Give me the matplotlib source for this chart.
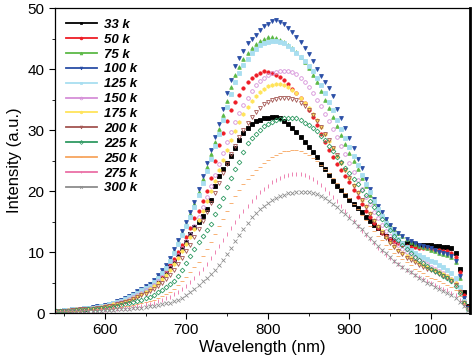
import matplotlib
matplotlib.use("Agg")
import matplotlib.pyplot as plt
from matplotlib.lines import Line2D
from matplotlib.ticker import MultipleLocator

plt.rcParams['font.family'] = ['Liberation Sans', 'DejaVu Sans']

# wavelength grid of the spectra (nm)
wavelength = list(range(540, 1050, 5))

labels = ["33 k", "50 k", "75 k", "100 k", "125 k", "150 k",
          "175 k", "200 k", "225 k", "250 k", "275 k", "300 k"]

i_33k = [0.4, 0.4, 0.5, 0.5, 0.6, 0.6, 0.7, 0.7, 0.8, 0.9, 1.0, 1.1, 1.2, 1.3, 1.5, 1.7, 1.9, 2.1, 2.4, 2.7,
         3.0, 3.4, 3.8, 4.2, 4.7, 5.3, 6.0, 6.8, 7.6, 8.6, 9.6, 10.7, 11.7, 13.0, 14.1, 15.0, 15.9, 17.0, 18.5, 20.8,
         22.4, 23.6, 24.6, 25.8, 27.0, 28.3, 29.5, 30.4, 31.0, 31.4, 31.7, 31.9, 32.0, 32.1, 32.1, 31.9, 31.5, 31.0, 30.4, 29.7,
         28.9, 28.1, 27.2, 26.4, 25.5, 24.5, 23.6, 22.6, 21.7, 20.9, 20.1, 19.3, 18.6, 17.9, 17.2, 16.5, 15.8, 15.1, 14.5, 13.9,
         13.3, 12.7, 12.2, 11.8, 11.6, 11.5, 11.4, 11.4, 11.3, 11.2, 11.2, 11.1, 11.1, 11.0, 11.0, 10.9, 10.8, 10.6, 9.8, 7.2,
         3.5, 1.2]
i_50k = [0.4, 0.4, 0.5, 0.5, 0.6, 0.6, 0.7, 0.8, 0.8, 0.9, 1.0, 1.1, 1.2, 1.4, 1.5, 1.7, 2.0, 2.2, 2.5, 2.8,
         3.2, 3.6, 4.0, 4.4, 4.9, 5.6, 6.3, 7.1, 8.0, 8.9, 10.0, 11.2, 12.5, 14.0, 15.5, 16.8, 18.3, 20.0, 22.2, 25.0,
         27.5, 29.5, 31.5, 33.2, 34.6, 35.7, 36.9, 37.9, 38.6, 39.1, 39.4, 39.6, 39.5, 39.3, 39.0, 38.7, 38.2, 37.6, 36.8, 36.0,
         35.2, 34.4, 33.3, 32.1, 30.8, 29.4, 28.1, 26.8, 25.5, 24.4, 23.4, 22.4, 21.4, 20.2, 19.0, 17.8, 16.7, 15.7, 14.7, 13.9,
         13.2, 12.6, 12.1, 11.7, 11.4, 11.2, 11.0, 10.9, 10.8, 10.7, 10.6, 10.6, 10.5, 10.4, 10.3, 10.2, 10.1, 9.9, 9.2, 6.8,
         3.0, 1.0]
i_75k = [0.4, 0.4, 0.5, 0.5, 0.6, 0.7, 0.7, 0.8, 0.9, 1.0, 1.1, 1.2, 1.3, 1.5, 1.7, 1.9, 2.1, 2.4, 2.7, 3.1,
         3.5, 3.9, 4.3, 4.7, 5.3, 6.0, 6.8, 7.6, 8.8, 10.2, 11.7, 13.2, 14.6, 16.2, 17.8, 19.8, 22.0, 24.0, 26.0, 28.0,
         30.2, 32.5, 34.8, 37.0, 39.0, 40.4, 41.6, 42.6, 43.5, 44.1, 44.6, 45.0, 45.2, 45.2, 45.1, 44.8, 44.4, 43.9, 43.4, 42.8,
         42.0, 41.2, 40.2, 39.0, 37.8, 36.4, 35.0, 33.6, 32.2, 30.6, 29.2, 27.7, 26.3, 25.0, 23.6, 22.2, 20.8, 19.4, 18.2, 17.1,
         16.1, 15.2, 14.4, 13.7, 13.1, 12.6, 12.1, 11.7, 11.3, 11.0, 10.8, 10.6, 10.4, 10.2, 9.9, 9.7, 9.5, 9.2, 8.4, 5.8,
         2.4, 0.8]
i_100k = [0.4, 0.4, 0.5, 0.5, 0.6, 0.7, 0.7, 0.8, 0.9, 1.0, 1.1, 1.2, 1.3, 1.5, 1.7, 1.9, 2.2, 2.5, 2.8, 3.2,
          3.6, 4.0, 4.4, 4.8, 5.4, 6.2, 7.0, 7.8, 9.0, 10.5, 12.0, 13.5, 15.0, 16.6, 18.2, 20.3, 22.5, 24.6, 26.7, 28.8,
          31.0, 33.5, 36.0, 38.2, 40.5, 41.8, 43.0, 44.2, 45.0, 45.6, 46.4, 47.0, 47.4, 47.8, 48.0, 47.7, 47.4, 46.7, 46.0, 45.3,
          44.5, 43.4, 42.4, 41.3, 40.0, 38.9, 37.8, 36.9, 35.6, 33.5, 32.0, 30.3, 28.7, 27.0, 25.3, 23.8, 22.0, 20.3, 18.7, 17.6,
          16.5, 15.4, 14.5, 13.8, 13.2, 12.7, 12.2, 11.8, 11.5, 11.2, 11.0, 10.8, 10.6, 10.3, 10.0, 9.8, 9.6, 9.3, 8.5, 6.0,
          2.5, 0.8]
i_125k = [0.4, 0.4, 0.5, 0.5, 0.6, 0.6, 0.7, 0.8, 0.8, 0.9, 1.0, 1.1, 1.2, 1.4, 1.6, 1.8, 2.0, 2.3, 2.6, 2.9,
          3.3, 3.7, 4.1, 4.5, 5.1, 5.8, 6.6, 7.4, 8.5, 9.9, 11.3, 12.8, 14.2, 15.8, 17.4, 19.3, 21.3, 23.3, 25.3, 27.3,
          29.4, 31.6, 33.8, 35.9, 37.8, 39.3, 40.6, 41.7, 42.6, 43.3, 43.9, 44.3, 44.5, 44.6, 44.6, 44.5, 44.2, 43.8, 43.3, 42.7,
          42.0, 41.3, 40.5, 39.6, 38.5, 37.3, 36.0, 34.6, 33.2, 31.7, 30.2, 28.7, 27.2, 25.7, 24.2, 22.7, 21.2, 19.8, 18.4, 17.1,
          15.9, 14.8, 13.8, 12.9, 12.1, 11.4, 10.8, 10.3, 9.9, 9.5, 9.2, 8.9, 8.6, 8.3, 7.9, 7.5, 7.1, 6.6, 5.8, 4.2,
          2.0, 0.7]
i_150k = [0.4, 0.4, 0.4, 0.5, 0.5, 0.6, 0.6, 0.7, 0.7, 0.8, 0.9, 1.0, 1.1, 1.2, 1.4, 1.6, 1.8, 2.0, 2.3, 2.6,
          2.9, 3.3, 3.7, 4.1, 4.6, 5.2, 5.9, 6.6, 7.5, 8.4, 9.5, 10.6, 11.8, 13.0, 14.3, 15.8, 17.4, 19.1, 20.9, 22.7,
          24.5, 26.3, 28.0, 29.7, 31.3, 32.8, 34.1, 35.3, 36.4, 37.3, 38.0, 38.6, 39.0, 39.3, 39.5, 39.6, 39.7, 39.7, 39.5, 39.2,
          38.6, 37.9, 37.0, 36.1, 35.0, 33.9, 32.7, 31.4, 30.1, 28.8, 27.4, 26.0, 24.6, 23.2, 21.8, 20.4, 19.1, 17.8, 16.6, 15.5,
          14.5, 13.5, 12.6, 11.8, 11.1, 10.5, 10.0, 9.5, 9.1, 8.7, 8.3, 8.0, 7.6, 7.3, 6.9, 6.5, 6.1, 5.6, 4.9, 3.6,
          1.8, 0.7]
i_175k = [0.4, 0.4, 0.4, 0.5, 0.5, 0.6, 0.6, 0.7, 0.7, 0.8, 0.9, 1.0, 1.1, 1.2, 1.4, 1.5, 1.7, 1.9, 2.2, 2.5,
          2.8, 3.1, 3.5, 3.9, 4.4, 5.0, 5.6, 6.3, 7.1, 8.0, 9.0, 10.1, 11.3, 12.5, 13.8, 15.2, 16.7, 18.3, 20.0, 21.7,
          23.4, 25.1, 26.8, 28.4, 29.9, 31.3, 32.6, 33.8, 34.8, 35.6, 36.3, 36.8, 37.2, 37.4, 37.5, 37.5, 37.3, 37.0, 36.6, 36.0,
          35.3, 34.5, 33.6, 32.6, 31.6, 30.5, 29.4, 28.2, 27.0, 25.8, 24.6, 23.4, 22.2, 21.0, 19.8, 18.6, 17.5, 16.4, 15.3, 14.3,
          13.4, 12.5, 11.7, 11.0, 10.4, 9.9, 9.4, 9.0, 8.6, 8.2, 7.9, 7.6, 7.3, 7.0, 6.7, 6.4, 6.0, 5.6, 4.9, 3.6,
          1.8, 0.7]
i_200k = [0.4, 0.4, 0.4, 0.4, 0.5, 0.5, 0.6, 0.6, 0.7, 0.7, 0.8, 0.9, 1.0, 1.1, 1.2, 1.4, 1.6, 1.8, 2.0, 2.3,
          2.6, 2.9, 3.2, 3.6, 4.0, 4.5, 5.0, 5.6, 6.3, 7.1, 8.0, 9.0, 10.1, 11.2, 12.4, 13.7, 15.1, 16.6, 18.1, 19.7,
          21.3, 22.9, 24.5, 26.0, 27.4, 28.8, 30.0, 31.1, 32.1, 32.9, 33.6, 34.2, 34.6, 34.9, 35.1, 35.2, 35.2, 35.2, 35.1, 34.9,
          34.5, 33.9, 33.2, 32.4, 31.5, 30.5, 29.4, 28.3, 27.1, 25.9, 24.6, 23.4, 22.1, 20.9, 19.7, 18.5, 17.3, 16.2, 15.1, 14.1,
          13.2, 12.3, 11.5, 10.8, 10.2, 9.6, 9.1, 8.7, 8.3, 7.9, 7.6, 7.3, 7.0, 6.7, 6.4, 6.1, 5.7, 5.3, 4.6, 3.4,
          1.7, 0.7]
i_225k = [0.3, 0.3, 0.4, 0.4, 0.4, 0.5, 0.5, 0.5, 0.6, 0.6, 0.7, 0.8, 0.9, 0.9, 1.0, 1.1, 1.3, 1.4, 1.6, 1.8,
          2.0, 2.2, 2.4, 2.7, 3.0, 3.4, 3.8, 4.3, 4.8, 5.3, 6.1, 7.1, 8.2, 9.3, 10.5, 11.6, 12.7, 13.6, 14.6, 16.2,
          17.6, 18.9, 20.6, 22.2, 23.6, 24.8, 26.4, 27.8, 28.7, 29.4, 30.0, 30.6, 31.0, 31.3, 31.6, 31.8, 31.9, 31.9, 31.9, 31.9,
          31.6, 31.2, 30.8, 30.3, 29.8, 29.1, 28.3, 27.4, 26.5, 25.6, 24.8, 23.8, 22.9, 22.0, 21.2, 20.2, 19.3, 18.3, 17.4, 16.4,
          15.4, 14.5, 13.6, 12.7, 11.9, 11.2, 10.5, 9.8, 9.2, 8.7, 8.2, 7.7, 7.3, 6.9, 6.5, 6.1, 5.7, 5.2, 4.5, 3.3,
          1.7, 0.7]
i_250k = [0.3, 0.3, 0.3, 0.3, 0.4, 0.4, 0.4, 0.5, 0.5, 0.5, 0.6, 0.6, 0.7, 0.7, 0.8, 0.9, 1.0, 1.1, 1.2, 1.3,
          1.5, 1.6, 1.8, 2.0, 2.2, 2.5, 2.8, 3.1, 3.5, 4.0, 4.6, 5.2, 5.9, 6.7, 7.5, 8.4, 9.4, 10.5, 11.7, 13.0,
          14.2, 15.4, 16.7, 18.0, 19.2, 20.2, 21.1, 21.9, 22.7, 23.4, 24.0, 24.6, 25.1, 25.5, 25.9, 26.2, 26.5, 26.6, 26.7, 26.7,
          26.6, 26.3, 25.9, 25.4, 24.9, 24.3, 23.6, 22.9, 22.1, 21.3, 20.5, 19.6, 18.8, 17.9, 17.0, 16.1, 15.2, 14.3, 13.5, 12.7,
          11.9, 11.2, 10.5, 9.9, 9.3, 8.8, 8.3, 7.8, 7.3, 6.9, 6.5, 6.1, 5.8, 5.5, 5.2, 4.9, 4.6, 4.2, 3.7, 2.8,
          1.5, 0.6]
i_275k = [0.2, 0.2, 0.3, 0.3, 0.3, 0.3, 0.4, 0.4, 0.4, 0.4, 0.5, 0.5, 0.5, 0.6, 0.6, 0.7, 0.8, 0.8, 0.9, 1.0,
          1.1, 1.2, 1.4, 1.5, 1.7, 1.9, 2.1, 2.4, 2.7, 3.1, 3.5, 4.0, 4.5, 5.1, 5.8, 6.5, 7.3, 8.1, 9.0, 10.0,
          11.0, 12.0, 13.0, 14.0, 15.0, 15.9, 16.8, 17.6, 18.4, 19.1, 19.8, 20.4, 20.9, 21.4, 21.8, 22.1, 22.4, 22.6, 22.8, 22.8,
          22.8, 22.6, 22.3, 22.0, 21.5, 21.0, 20.4, 19.7, 19.0, 18.3, 17.5, 16.7, 15.9, 15.1, 14.3, 13.5, 12.8, 12.1, 11.4, 10.7,
          10.1, 9.5, 9.0, 8.5, 8.0, 7.5, 7.1, 6.7, 6.3, 5.9, 5.6, 5.2, 4.9, 4.6, 4.3, 4.0, 3.7, 3.3, 2.9, 2.2,
          1.3, 0.6]
i_300k = [0.2, 0.2, 0.2, 0.3, 0.3, 0.3, 0.3, 0.3, 0.4, 0.4, 0.4, 0.4, 0.5, 0.5, 0.5, 0.6, 0.6, 0.7, 0.7, 0.8,
          0.8, 0.9, 1.0, 1.1, 1.2, 1.3, 1.4, 1.6, 1.7, 1.9, 2.2, 2.5, 2.9, 3.4, 4.0, 4.6, 5.2, 5.8, 6.4, 7.1,
          7.8, 8.7, 9.7, 10.7, 11.8, 12.8, 13.8, 14.8, 15.7, 16.4, 17.0, 17.6, 18.1, 18.5, 18.9, 19.2, 19.4, 19.6, 19.7, 19.8,
          19.9, 19.9, 19.8, 19.7, 19.5, 19.2, 18.8, 18.3, 17.8, 17.3, 16.8, 16.2, 15.6, 15.0, 14.3, 13.7, 13.0, 12.3, 11.7, 11.0,
          10.4, 9.8, 9.2, 8.6, 8.1, 7.6, 7.1, 6.7, 6.2, 5.8, 5.4, 5.0, 4.7, 4.3, 4.0, 3.6, 3.3, 2.9, 2.5, 1.8,
          1.1, 0.5]

spectra = [i_33k, i_50k, i_75k, i_100k, i_125k, i_150k,
           i_175k, i_200k, i_225k, i_250k, i_275k, i_300k]

colors = ["#000000", "#ee1c25", "#5cb946", "#2a4ea6", "#a8def0", "#d58fd8",
          "#ffe45a", "#a25450", "#2f9a62", "#f7a55e", "#eb6fa6", "#8c8c8c"]
markers = ["s", "o", "^", "v", "s", "o", "h", "v", "D", "_", "|", "x"]
filled = [True, True, True, True, True, False, True, False, False, True, True, True]
sizes = [2.2, 2.4, 2.6, 2.8, 2.4, 2.6, 2.6, 2.8, 2.4, 2.8, 2.8, 2.4]


def main():
    fig = plt.figure(figsize=(4.74, 3.64), dpi=100)
    ax = fig.add_axes([0.116, 0.14, 0.876, 0.838])

    handles = []
    for y, c, m, f, s, lab in zip(spectra, colors, markers, filled, sizes, labels):
        fc = c if f else "none"
        ax.plot(wavelength, y, ls="none", marker=m, ms=s, color=c,
                mfc=fc, mec=c, mew=0.6)
        handles.append(Line2D([], [], color=c, lw=1.3, marker=m, ms=2.0,
                              mfc=fc, mec=c, mew=0.5))

    ax.set_xlim(539, 1048)
    ax.set_ylim(0, 50)
    ax.xaxis.set_major_locator(MultipleLocator(100))
    ax.xaxis.set_minor_locator(MultipleLocator(50))
    ax.yaxis.set_major_locator(MultipleLocator(10))
    ax.yaxis.set_minor_locator(MultipleLocator(5))
    ax.tick_params(which="both", direction="out", labelsize=11, top=False, right=False)
    ax.tick_params(which="major", length=4)
    ax.tick_params(which="minor", length=2.5)
    for sp in ax.spines.values():
        sp.set_linewidth(0.9)
    ax.spines["right"].set_linewidth(2.0)

    ax.set_xlabel("Wavelength (nm)", fontsize=12, labelpad=2)
    ax.set_ylabel("Intensity (a.u.)", fontsize=12, labelpad=4)

    ax.legend(handles, labels, loc="upper left", frameon=False,
              prop={"size": 9.5, "style": "italic", "weight": "bold"},
              handlelength=2.4, handletextpad=0.5, labelspacing=0.2,
              borderaxespad=0.4, bbox_to_anchor=(0.0, 1.0))

    fig.savefig("out.png", dpi=100)


if __name__ == "__main__":
    main()
